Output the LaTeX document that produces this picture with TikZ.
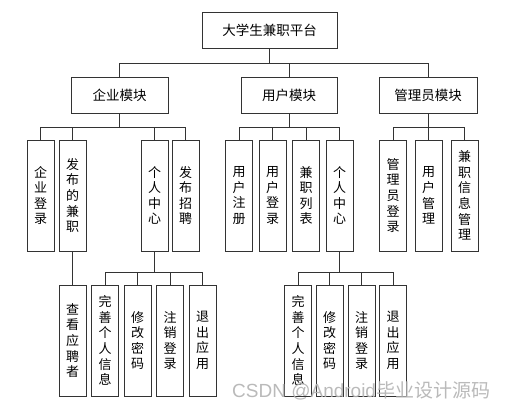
\documentclass[tikz,border=0pt]{standalone}
\usepackage{fontspec}
\setmainfont{Liberation Sans}
\newfontfamily\cjk{Noto Sans CJK SC}
\tikzset{
  modbox/.style = {draw=black!80, line width=0.8pt, inner sep=0pt,
    minimum height=36pt, font=\cjk\fontsize{13.5}{15}\selectfont},
  leafbox/.style = {draw=black!80, line width=0.8pt, inner sep=0pt,
    minimum width=27pt, minimum height=111pt, align=center,
    font=\cjk\fontsize{13}{15.6}\selectfont},
  link/.style = {draw=black!80, line width=0.8pt}
}

\begin{document}
\begin{tikzpicture}[x=1pt,y=-1pt]
  \useasboundingbox (0,0) rectangle (508,412);
  % top and modules
  \node[modbox,minimum width=135pt] (top) at (269.5,30) {大学生兼职平台};
  \node[modbox,minimum width=97pt] (ent) at (119.5,95) {企业模块};
  \node[modbox,minimum width=96pt] (usr) at (289,95) {用户模块};
  \node[modbox,minimum width=98pt] (adm) at (428,95) {管理员模块};
  % enterprise leaves
  \node[leafbox] (entLogin) at (40.5,195.5) {企\\业\\登\\录};
  \node[leafbox] (entPost) at (72.5,195.5) {发\\布\\的\\兼\\职};
  \node[leafbox] (entHome) at (154.5,195.5) {个\\人\\中\\心};
  \node[leafbox] (entHire) at (185.5,195.5) {发\\布\\招\\聘};
  % user leaves
  \node[leafbox] (usrReg) at (239,195.5) {用\\户\\注\\册};
  \node[leafbox] (usrLogin) at (272.5,195.5) {用\\户\\登\\录};
  \node[leafbox] (usrList) at (306,195.5) {兼\\职\\列\\表};
  \node[leafbox] (usrHome) at (339.5,195.5) {个\\人\\中\\心};
  % admin leaves
  \node[leafbox] (admLogin) at (393,195.5) {管\\理\\员\\登\\录};
  \node[leafbox] (admUser) at (428.5,195.5) {用\\户\\管\\理};
  \node[leafbox] (admJob) at (464.5,195.5) {兼\\职\\信\\息\\管\\理};
  % fourth level
  \node[leafbox] (entApply) at (72.5,340.5) {查\\看\\应\\聘\\者};
  \node[leafbox] (entInfo) at (105,340.5) {完\\善\\个\\人\\信\\息};
  \node[leafbox] (entPwd) at (137.5,340.5) {修\\改\\密\\码};
  \node[leafbox] (entOff) at (170,340.5) {注\\销\\登\\录};
  \node[leafbox] (entQuit) at (202.5,340.5) {退\\出\\应\\用};
  \node[leafbox] (usrInfo) at (298,340.5) {完\\善\\个\\人\\信\\息};
  \node[leafbox] (usrPwd) at (329.5,340.5) {修\\改\\密\\码};
  \node[leafbox] (usrOff) at (361.5,340.5) {注\\销\\登\\录};
  \node[leafbox] (usrQuit) at (393,340.5) {退\\出\\应\\用};
  % connectors
  \foreach \c in {ent,usr,adm}
    \draw[link] (top.south) -- ++(0,15) -| (\c.north);
  \foreach \c in {entLogin,entPost,entHome,entHire}
    \draw[link] (ent.south) -- ++(0,14) -| (\c.north);
  \foreach \c in {usrReg,usrLogin,usrList,usrHome}
    \draw[link] (usr.south) -- ++(0,14) -| (\c.north);
  \foreach \c in {admLogin,admUser,admJob}
    \draw[link] (adm.south) -- ++(0,14) -| (\c.north);
  \draw[link] (entPost.south) -- (entApply.north);
  \foreach \c in {entInfo,entPwd,entOff,entQuit}
    \draw[link] (entHome.south) -- ++(0,21) -| (\c.north);
  \foreach \c in {usrInfo,usrPwd,usrOff,usrQuit}
    \draw[link] (usrHome.south) -- ++(0,21) -| (\c.north);
  % watermark
  \node[text=black!30, opacity=0.9, anchor=west, inner sep=0pt,
    font=\fontsize{19}{21}\selectfont] (mark) at (232,391)
    {CSDN @Android{\cjk 毕业设计源码}};
\end{tikzpicture}
\end{document}
